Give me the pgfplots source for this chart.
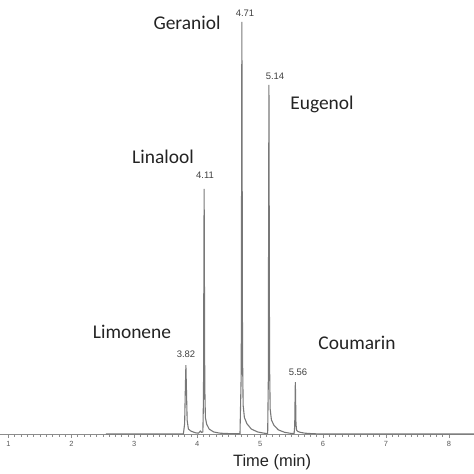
\documentclass[border=0pt]{standalone}
\usepackage{fontspec}
\setmainfont{Liberation Sans}
\newfontfamily\carlito{Carlito}
\usepackage{pgfplots}
\pgfplotsset{compat=1.18}
\definecolor{trace}{RGB}{120,120,120}
\definecolor{axisgray}{RGB}{140,140,140}
\definecolor{txt}{RGB}{35,35,35}

\begin{document}
\begin{tikzpicture}
\useasboundingbox (0,0) rectangle (474bp,474bp);
\begin{axis}[
    at={(0,40bp)}, anchor=south west,
    scale only axis,
    width=474bp, height=434bp,
    xmin=0.865, xmax=8.40,
    ymin=0, ymax=105.3,
    axis x line=bottom,
    axis y line=none,
    axis line style={axisgray, line width=0.7pt, -},
    xtick={1,2,...,8},
    minor x tick num=9,
    tick align=outside,
    major tick length=4bp,
    minor tick length=2.5bp,
    tick style={axisgray, line width=0.6pt},
    ticklabel style={font=\fontsize{7.5}{9}\selectfont, text=black!65},
    /pgf/number format/assume math mode=true,
    clip=false,
]
% chromatogram trace (relative intensity, tallest peak = 100)
\addplot[trace, line width=1.1pt] coordinates {
(2.55,0) (3.78,0) (3.80,2.5) (3.81,10) (3.82,16.7) (3.83,10) (3.84,3.3)
(3.86,1.2) (3.90,0.7) (3.97,0.3) (4.02,0.2) (4.05,0.7) (4.07,0.4) (4.09,0.5)
(4.10,9) (4.105,36) (4.11,59.5) (4.115,36) (4.12,12) (4.13,4) (4.15,2.4)
(4.19,1.2) (4.26,0.5) (4.36,0.2) (4.50,0.1) (4.68,0.05)
(4.70,15) (4.705,60) (4.71,100) (4.715,60) (4.72,20) (4.73,7) (4.75,4)
(4.79,2.5) (4.86,1.2) (4.96,0.5) (5.06,0.2) (5.12,0.1)
(5.13,12.7) (5.135,51) (5.14,84.7) (5.145,51) (5.15,17) (5.16,6) (5.18,3.4)
(5.22,2.1) (5.29,1) (5.39,0.4) (5.49,0.15) (5.54,0.1)
(5.55,1.9) (5.555,7.6) (5.56,12.6) (5.565,7.6) (5.57,2.5) (5.58,0.9) (5.60,0.6)
(5.64,0.4) (5.71,0.2) (5.81,0.1) (5.95,0) (8.40,0)
};
% compound names
\node[font=\carlito\fontsize{19.5}{21}\selectfont, text=txt] at (axis cs:3.838,99.8) {Geraniol};
\node[font=\carlito\fontsize{19.5}{21}\selectfont, text=txt] at (axis cs:3.456,67.2) {Linalool};
\node[font=\carlito\fontsize{19.5}{21}\selectfont, text=txt] at (axis cs:2.963,24.8) {Limonene};
\node[font=\carlito\fontsize{19.5}{21}\selectfont, text=txt] at (axis cs:5.984,79.9) {Eugenol};
\node[font=\carlito\fontsize{19.5}{21}\selectfont, text=txt] at (axis cs:6.540,22.1) {Coumarin};
% retention times
\node[font=\fontsize{9.5}{11}\selectfont, text=black!75] at (axis cs:4.760,102.2) {4.71};
\node[font=\fontsize{9.5}{11}\selectfont, text=black!75] at (axis cs:5.237,86.7) {5.14};
\node[font=\fontsize{9.5}{11}\selectfont, text=black!75] at (axis cs:4.124,62.9) {4.11};
\node[font=\fontsize{9.5}{11}\selectfont, text=black!75] at (axis cs:3.822,19.4) {3.82};
\node[font=\fontsize{9.5}{11}\selectfont, text=black!75] at (axis cs:5.602,15.0) {5.56};
% axis title
\node[font=\fontsize{16.5}{18}\selectfont, text=txt] at (axis cs:5.19,-6.8) {Time (min)};
\end{axis}
\end{tikzpicture}
\end{document}
